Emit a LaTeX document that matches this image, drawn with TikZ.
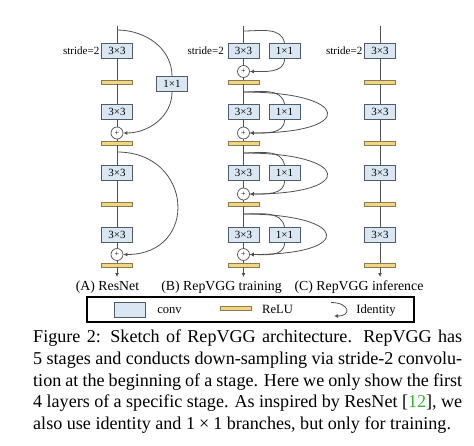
\documentclass[tikz,border=0pt]{standalone}
\usepackage{fontspec}
\setmainfont{Liberation Serif}
\usepackage{tikz}
\usetikzlibrary{arrows.meta}

\definecolor{convfill}{HTML}{DAE7F3}
\definecolor{convline}{HTML}{4C5C6C}
\definecolor{relufill}{HTML}{F0D584}
\definecolor{reluline}{HTML}{8C7C4C}
\definecolor{wirecol}{HTML}{505050}
\definecolor{refgreen}{HTML}{33B533}

\tikzset{
    conv/.style={draw=convline, fill=convfill, line width=0.9pt, minimum width=31pt, minimum height=15pt, inner sep=0pt, font=\fontsize{11}{11}\selectfont},
    relu/.style={draw=reluline, fill=relufill, line width=0.8pt, minimum width=31pt, minimum height=4pt, inner sep=0pt},
    plus/.style={shape=circle, draw=wirecol, fill=white, line width=0.7pt, minimum size=12pt, inner sep=0pt, font=\fontsize{8}{8}\selectfont},
    stridelbl/.style={anchor=east, inner sep=0pt, font=\fontsize{11}{11}\selectfont},
    wire/.style={draw=wirecol, line width=0.8pt},
    arr/.style={wire, -{Latex[length=4pt,width=4pt]}},
    collbl/.style={anchor=base, inner sep=0pt, font=\fontsize{13.8}{14}\selectfont},
    legtxt/.style={anchor=base, inner sep=0pt, font=\fontsize{12.6}{13}\selectfont},
}

\begin{document}
\begin{tikzpicture}[x=1pt, y=-1pt]
        \useasboundingbox (0,0) rectangle (474,445);

        % (A) ResNet
        \coordinate (atop) at (117,26);
        \coordinate (abr1) at (117,30);
        \coordinate (abr2) at (117,152);
        \coordinate (aend) at (117,277);
        \node[conv] (a1) at (117,51) {3×3};
        \node[stridelbl] (sa) at (99.5,51) {stride=2};
        \node[relu] (ra1) at (117,82) {};
        \node[conv] (a1s) at (172,84) {1×1};
        \node[conv] (a2) at (117,112) {3×3};
        \node[plus] (pa1) at (117,133) {+};
        \node[relu] (ra2) at (117,143) {};
        \node[conv] (a3) at (117,173) {3×3};
        \node[relu] (ra3) at (117,204) {};
        \node[conv] (a4) at (117,235) {3×3};
        \node[plus] (pa2) at (117,254.5) {+};
        \node[relu] (ra4) at (117,265) {};

        \path [wire](atop) edge (a1);
        \path [wire](a1) edge (ra1);
        \path [wire](ra1) edge (a2);
        \path [wire](a2) edge (pa1);
        \path [wire](pa1) edge (ra2);
        \path [wire](ra2) edge (a3);
        \path [wire](a3) edge (ra3);
        \path [wire](ra3) edge (a4);
        \path [wire](a4) edge (pa2);
        \path [wire](pa2) edge (ra4);
        \draw [arr](ra4) -- (aend);
        \draw [wire](abr1) to[out=0, in=90] (a1s.north);
        \draw [arr](a1s.south) to[out=-90, in=0] (pa1.east);
        \draw [arr](abr2) to[out=0, in=0, looseness=1.9] (pa2.east);

        % (B) RepVGG training
        \coordinate (btop) at (243.5,26);
        \coordinate (bbr1) at (243.5,31);
        \coordinate (bbr2) at (243.5,92);
        \coordinate (bbr3) at (243.5,153);
        \coordinate (bbr4) at (243.5,214);
        \coordinate (bend) at (243.5,277);
        \node[conv] (b1) at (243.5,51) {3×3};
        \node[stridelbl] (sb) at (224,51) {stride=2};
        \node[conv] (b1s) at (284.5,51) {1×1};
        \node[plus] (pb1) at (243.5,71.5) {+};
        \node[relu] (rb1) at (243.5,82) {};
        \node[conv] (b2) at (243.5,112) {3×3};
        \node[conv] (b2s) at (284.5,112) {1×1};
        \node[plus] (pb2) at (243.5,133) {+};
        \node[relu] (rb2) at (243.5,143) {};
        \node[conv] (b3) at (243.5,173) {3×3};
        \node[conv] (b3s) at (284.5,173) {1×1};
        \node[plus] (pb3) at (243.5,194) {+};
        \node[relu] (rb3) at (243.5,204) {};
        \node[conv] (b4) at (243.5,235) {3×3};
        \node[conv] (b4s) at (284.5,235) {1×1};
        \node[plus] (pb4) at (243.5,254.5) {+};
        \node[relu] (rb4) at (243.5,265) {};

        \path [wire](btop) edge (b1);
        \path [wire](b1) edge (pb1);
        \path [wire](pb1) edge (rb1);
        \path [wire](rb1) edge (b2);
        \path [wire](b2) edge (pb2);
        \path [wire](pb2) edge (rb2);
        \path [wire](rb2) edge (b3);
        \path [wire](b3) edge (pb3);
        \path [wire](pb3) edge (rb3);
        \path [wire](rb3) edge (b4);
        \path [wire](b4) edge (pb4);
        \path [wire](pb4) edge (rb4);
        \draw [arr](rb4) -- (bend);
        \draw [wire](bbr1) to[out=0, in=100] (b1s.north);
        \draw [arr](b1s.south) to[out=-90, in=0] (pb1.east);
        \draw [wire](bbr2) to[out=0, in=100] (b2s.north);
        \draw [arr](b2s.south) to[out=-90, in=0] (pb2.east);
        \draw [arr](bbr2) to[out=0, in=0, looseness=6.6] (pb2.east);
        \draw [wire](bbr3) to[out=0, in=100] (b3s.north);
        \draw [arr](b3s.south) to[out=-90, in=0] (pb3.east);
        \draw [arr](bbr3) to[out=0, in=0, looseness=6.6] (pb3.east);
        \draw [wire](bbr4) to[out=0, in=100] (b4s.north);
        \draw [arr](b4s.south) to[out=-90, in=0] (pb4.east);
        \draw [arr](bbr4) to[out=0, in=0, looseness=6.6] (pb4.east);

        % (C) RepVGG inference
        \coordinate (ctop) at (380,26);
        \coordinate (cend) at (380,277);
        \node[conv] (c1) at (380,51) {3×3};
        \node[stridelbl] (sc) at (362.5,51) {stride=2};
        \node[relu] (rc1) at (380,82) {};
        \node[conv] (c2) at (380,112) {3×3};
        \node[relu] (rc2) at (380,143) {};
        \node[conv] (c3) at (380,173) {3×3};
        \node[relu] (rc3) at (380,204) {};
        \node[conv] (c4) at (380,235) {3×3};
        \node[relu] (rc4) at (380,265) {};

        \path [wire](ctop) edge (c1);
        \path [wire](c1) edge (rc1);
        \path [wire](rc1) edge (c2);
        \path [wire](c2) edge (rc2);
        \path [wire](rc2) edge (c3);
        \path [wire](c3) edge (rc3);
        \path [wire](rc3) edge (c4);
        \path [wire](c4) edge (rc4);
        \draw [arr](rc4) -- (cend);

        % column titles
        \node[collbl] (ta) at (107.5,290) {(A) ResNet};
        \node[collbl] (tb) at (221.5,290) {(B) RepVGG training};
        \node[collbl] (tc) at (359,290) {(C) RepVGG inference};

        % legend
        \node[draw=black, line width=1.2pt, minimum width=327pt, minimum height=25pt, inner sep=0pt] (leg) at (250.5,309.5) {};
        \node[conv] (lconv) at (129.5,309.5) {};
        \node[legtxt] (lconvt) at (169.5,313.5) {conv};
        \node[relu] (lrelu) at (236,308) {};
        \node[legtxt] (lrelut) at (277.5,313.5) {ReLU};
        \coordinate (lidA) at (331,302.5);
        \coordinate (lidB) at (334,316);
        \draw [arr](lidA) to[out=0, in=0, looseness=3.4] (lidB);
        \node[legtxt] (lidt) at (376,313.5) {Identity};

        % caption
        \node[anchor=north west, inner sep=0pt, text width=429pt, align=justify, font=\fontsize{18.1}{21.75}\selectfont] (cap) at (33,329.6)
            {Figure 2: Sketch of RepVGG architecture. RepVGG has\linebreak
             5 stages and conducts down-sampling via stride-2 convolu-\linebreak
             tion at the beginning of a stage. Here we only show the first\linebreak
             4 layers of a specific stage. As inspired by ResNet [\textcolor{refgreen}{12}], we\linebreak
             also use identity and 1\hspace{0.22em}×\hspace{0.22em}1 branches, but only for training.};
    \end{tikzpicture}
\end{document}
